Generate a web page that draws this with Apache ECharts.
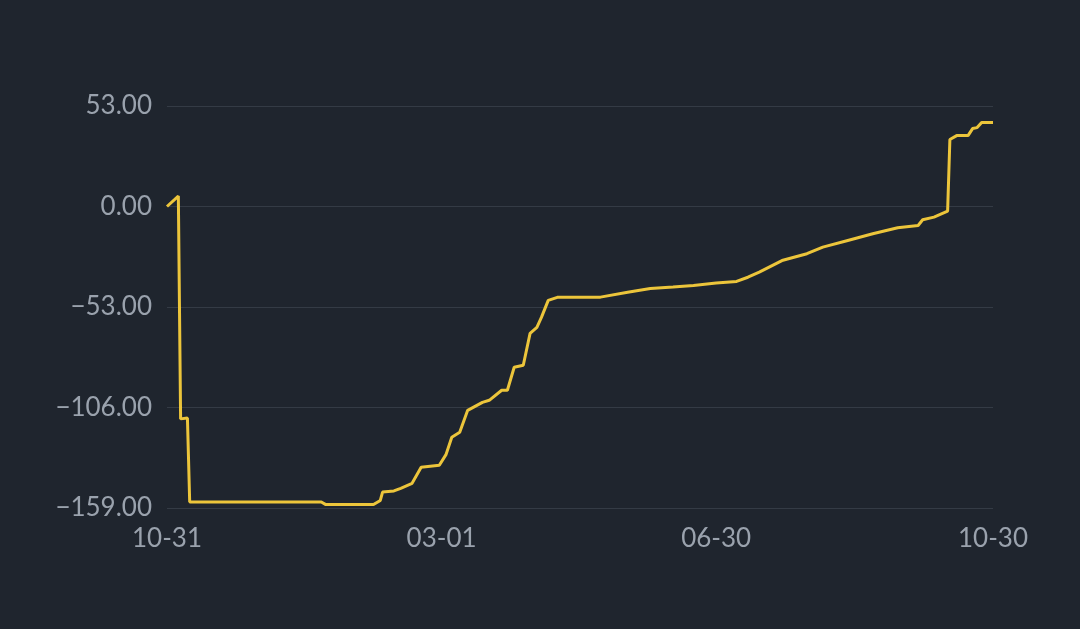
<!DOCTYPE html>
<html>
<head>
<meta charset="utf-8">
<script src="https://cdn.jsdelivr.net/npm/echarts@6/dist/echarts.min.js"></script>
<style>
  html, body { margin: 0; padding: 0; background: #1f252e; }
  #chart { width: 1080px; height: 629px; }
</style>
</head>
<body>
<div id="chart"></div>
<script>
// days since 10-31
var days = [0, 5, 6, 9, 10, 68, 70, 91, 94, 95, 100, 103, 108, 112, 120, 123, 125.5, 129, 132.5, 139, 142, 147.5, 150, 153, 157, 160, 163, 165, 168, 172,
            182, 191, 203, 213, 223, 232, 242, 251, 256, 261, 271, 282, 289, 300, 311, 322, 331, 333, 338, 344, 345, 348, 353, 355, 357, 359, 364];
var values = [0, 5.5, -112, -111.5, -155.8, -155.8, -157.2, -157.2, -155, -150.6, -150, -148.6, -146, -137.5, -136.5, -130.7, -121.7, -119.1, -107.5, -103.3, -102.2, -96.9, -96.9, -84.8, -83.7, -66.9, -63.8, -58.5, -49.5, -47.9,
              -47.9, -47.8, -45.2, -43.2, -42.5, -41.6, -40.4, -39.5, -37.3, -34.6, -28.5, -24.9, -21.4, -17.9, -14.4, -11.2, -10.0, -7.0, -5.6, -2.5, 35.3, 37.4, 37.4, 41.1, 41.6, 44.3, 44.3];
var tickDays = [0, 121, 242, 364];
var tickLabels = ['10-31', '03-01', '06-30', '10-30'];
var yTicks = [-159, -106, -53, 0, 53];

var chart = echarts.init(document.getElementById('chart'));

var points = days.map(function (d, i) { return [d, values[i]]; });

var option = {
  backgroundColor: '#1f252e',
  animation: false,
  grid: { left: 167, right: 87, top: 106, bottom: 121 },
  xAxis: {
    type: 'value',
    min: 0,
    max: 364,
    axisLine: { show: false },
    axisTick: { show: false },
    splitLine: { show: false },
    axisLabel: {
      customValues: tickDays,
      color: '#9aa2ad',
      fontSize: 26,
      fontFamily: 'Lato',
      margin: 18,
      formatter: function (v) {
        var i = tickDays.indexOf(v);
        return i >= 0 ? tickLabels[i] : '';
      }
    }
  },
  yAxis: {
    type: 'value',
    min: yTicks[0],
    max: yTicks[yTicks.length - 1],
    interval: 53,
    axisLine: { show: false },
    axisTick: { show: false },
    splitLine: { lineStyle: { color: '#343b45', width: 1 } },
    axisLabel: {
      color: '#9aa2ad',
      fontSize: 26,
      fontFamily: 'Lato',
      margin: 15,
      formatter: function (v) {
        return v.toFixed(2).replace('-', '\u2212');
      }
    }
  },
  series: [{
    type: 'line',
    data: points,
    symbol: 'none',
    lineStyle: { color: '#ecc53b', width: 3 }
  }]
};

chart.setOption(option);
</script>
</body>
</html>
